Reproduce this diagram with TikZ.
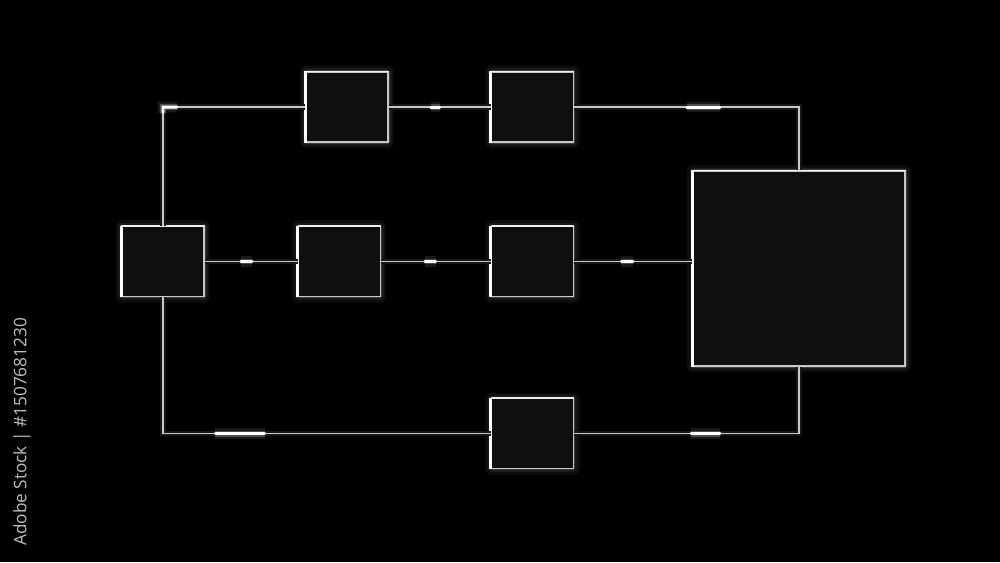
\documentclass[tikz,border=0pt]{standalone}
\usepackage{fontspec}
\setsansfont{Open Sans}
\usetikzlibrary{positioning, calc}

\begin{document}
\begin{tikzpicture}[
    x=0.02cm, y=-0.02cm,
    glow/.style={preaction={draw=black!95, line width=7pt, line join=round},
                 preaction={draw=black!90, line width=4pt, line join=round},
                 preaction={draw=black!76, line width=2pt, line join=round}},
    box/.style={rectangle, draw=black!22, line width=0.7pt, fill=black!94, inner sep=0pt,
                minimum width=1.64cm, minimum height=1.4cm, glow},
    bigbox/.style={box, minimum width=4.24cm, minimum height=3.9cm},
    wire/.style={draw=black!22, line width=0.75pt,
                 preaction={draw=black!91, line width=3pt}},
    lefthi/.style={draw=white, line width=1.5pt},
    tophi/.style={draw=black!6, line width=0.9pt},
    pulse/.style={draw=white, line width=1.7pt, line cap=round,
                  preaction={draw=black!90, line width=6pt, line cap=butt},
                  preaction={draw=black!70, line width=3.2pt, line cap=butt}},
    node distance=1.86cm
]

\useasboundingbox (0,0) rectangle (1000,562);
\fill[black] (0,0) rectangle (1000,562);

% Middle row
\node[box] (A) at (163,261.5) {};
\node[box, right=of A] (D) {};
\node[box, right=2.2cm of D] (E) {};

% Top row
\node[box] (B) at (347,107) {};
\node[box] at (E |- B) (C) {};

% Bottom and right
\node[box, below=2.02cm of E] (F) {};
\node[bigbox] (G) at (799,268.5) {};

% brighter left and top edges
\foreach \b in {A,B,C,D,E,F,G} {
  \draw[tophi] (\b.north west) -- (\b.north east);
  \draw[lefthi] (\b.south west) -- (\b.north west);
}

% Corners of the loop
\coordinate (tl) at (A.north |- B.west);
\coordinate (tr) at (G.north |- C.east);
\coordinate (bl) at (A.south |- F.west);
\coordinate (br) at (G.south |- F.east);

% Wires
\draw[wire] (A.north) -- (tl) -- (B.west);
\draw[wire] (B.east) -- (C.west);
\draw[wire] (C.east) -- (tr) -- (G.north);
\draw[wire] (A.east) -- (D.west);
\draw[wire] (D.east) -- (E.west);
\draw[wire] (E.east) -- (E.east -| G.west);
\draw[wire] (A.south) -- (bl) -- (F.west);
\draw[wire] (F.east) -- (br) -- (G.south);

% Pulses
\draw[pulse, line join=miter] ($(tl)!0.05!(A.north)$) -- (tl) -- ($(tl)!0.1!(B.west)$);
\draw[pulse] ($(B.east)!0.41!(C.west)$) -- ($(B.east)!0.5!(C.west)$);
\draw[pulse] ($(C.east)!0.5!(tr)$) -- ($(C.east)!0.65!(tr)$);
\draw[pulse] ($(A.east)!0.39!(D.west)$) -- ($(A.east)!0.51!(D.west)$);
\draw[pulse] ($(D.east)!0.4!(E.west)$) -- ($(D.east)!0.5!(E.west)$);
\draw[pulse] ($(E.east)!0.4!(E.east -| G.west)$) -- ($(E.east)!0.5!(E.east -| G.west)$);
\draw[pulse] ($(bl)!0.16!(F.west)$) -- ($(bl)!0.31!(F.west)$);
\draw[pulse] ($(F.east)!0.52!(br)$) -- ($(F.east)!0.65!(br)$);

% Stock id
\node[rotate=90, anchor=west, inner sep=0pt, text=black!25,
      font=\sffamily\fontsize{9.8}{10}\selectfont] (stockid) at (22,546) {Adobe Stock | \#1507681230};

\end{tikzpicture}
\end{document}
